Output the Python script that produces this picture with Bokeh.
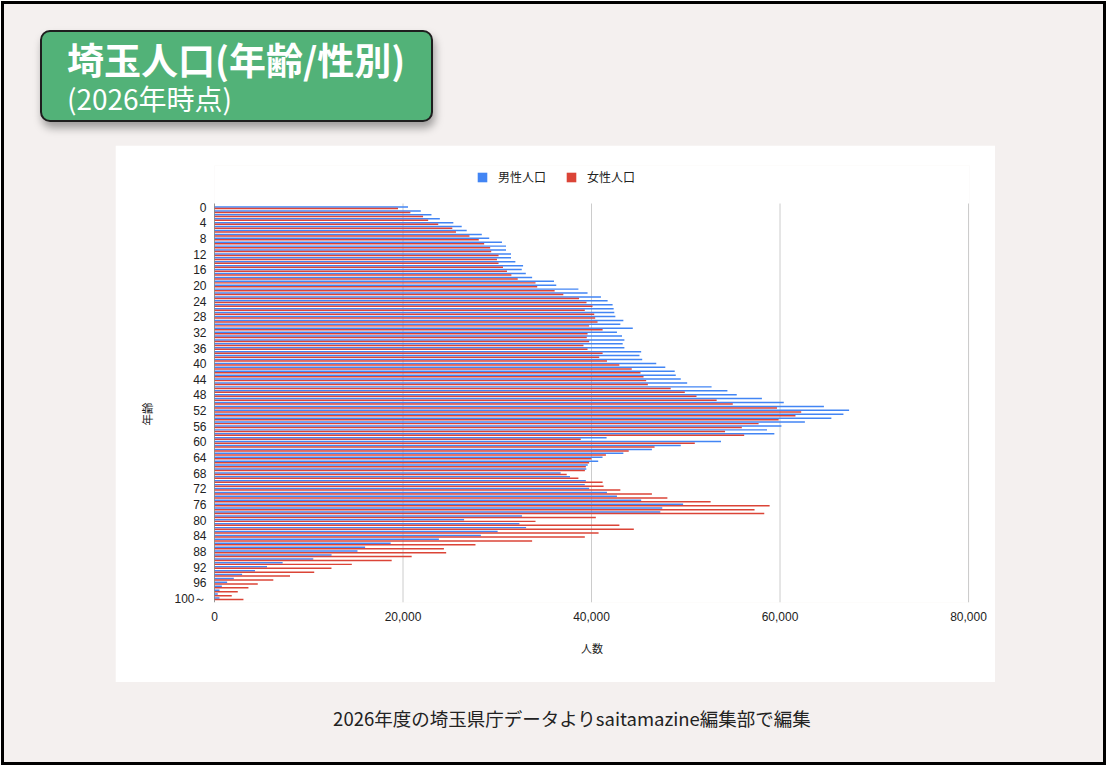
from bokeh.plotting import figure
from bokeh.layouts import column
from bokeh.models import (Range1d, FixedTicker, NumeralTickFormatter, Legend, LegendItem,
                          ColumnDataSource, Div, Title)
from bokeh.transform import dodge
from bokeh.embed import file_html
from bokeh.resources import INLINE

# ---- data: Saitama population by age (0 .. 100+) ----
ages = list(range(0, 101))
male = [
    20530, 21890, 23020, 23910, 25340, 26230, 26760, 28360, 29150, 30500,
    30930, 30930, 31460, 31460, 31920, 32740, 32600, 33030, 33700, 36020,
    36260, 38610, 39580, 41000, 41710, 42240, 42350, 42420, 42530, 43380,
    43060, 44380, 42700, 43240, 43490, 43310, 43490, 45270, 45090, 45380,
    46870, 47830, 48830, 48940, 49470, 50150, 52740, 54420, 55410, 58080,
    60400, 64660, 67330, 66730, 65450, 62640, 60150, 58620, 59400, 41600,
    53740, 49470, 46410, 43380, 41170, 40710, 39600, 39450, 36730, 37720,
    39400, 39290, 39750, 41640, 42700, 45270, 49720, 47510, 47300, 32630,
    26480, 32350, 33060, 30040, 28260, 23810, 18690, 15980, 15170, 12420,
    10480, 7230, 5570, 4300, 2930, 2050, 1340, 780, 530, 350,
    530,
]
female = [
    19470, 20780, 22130, 22670, 23740, 25230, 25620, 27050, 28040, 28610,
    29250, 29360, 30140, 29970, 30140, 30610, 31030, 31500, 32170, 34060,
    34240, 36090, 37010, 38680, 39470, 40110, 39290, 40290, 40390, 40640,
    39750, 41180, 39580, 39500, 39750, 39150, 39580, 41180, 40820, 41640,
    42950, 44270, 45200, 45520, 45800, 45980, 48400, 49900, 51140, 53280,
    54990, 59680, 62250, 61640, 59860, 57730, 55950, 54170, 56200, 38860,
    50960, 46690, 43950, 41530, 40000, 39750, 39400, 39300, 37370, 38610,
    41180, 41280, 43060, 46410, 48050, 52640, 58900, 57300, 58330, 40460,
    34060, 42960, 44490, 40750, 39290, 33700, 27690, 24340, 24580, 20920,
    18800, 14570, 12410, 10580, 8010, 6240, 4590, 3600, 2470, 1830,
    3070,
]
age_ticks = list(range(0, 101, 4))
age_tick_labels = [str(a) for a in range(0, 100, 4)] + ["100～"]
count_ticks = [0, 20000, 40000, 60000, 80000]

series_names = ["男性人口", "女性人口"]
series_colors = ["#4285f4", "#db4437"]

TITLE = "埼玉人口(年齢/性別)"
SUBTITLE = "(2026年時点)"
CAPTION = "2026年度の埼玉県庁データよりsaitamazine編集部で編集"
Y_TITLE = "年齢"
X_TITLE = "人数"

JP = "Noto Sans CJK JP"
LAT = "Liberation Sans"
INK = "#222222"

# bar area spans ages -1.1 .. 100.95 on the category axis; the frame reaches
# higher so that the legend row sits inside it, above the bars
AGE_TOP, AGE_BOTTOM = ages[0] - 1.1, ages[-1] + 0.95
LEGEND_ROOM = 9.72
# one pixel of slack past the last grid line so it is not clipped by the frame
X_SLACK = 106

# ---- chart panel ----
p = figure(width=880, height=537, output_backend="svg", toolbar_location=None,
           x_range=Range1d(count_ticks[0], count_ticks[-1] + X_SLACK),
           y_range=Range1d(AGE_BOTTOM, AGE_TOP - LEGEND_ROOM),
           min_border_left=99, min_border_right=26,
           min_border_top=20, min_border_bottom=80,
           border_fill_color="white", background_fill_color="white",
           outline_line_color=None)

# vertical grid lines and the zero baseline, limited to the bar area
grid_src = ColumnDataSource(dict(x=count_ticks[1:]))
p.segment(x0="x", x1="x", y0=AGE_TOP, y1=AGE_BOTTOM, source=grid_src,
          line_color="#cccccc", line_width=1)

src = ColumnDataSource(dict(age=ages, male=male, female=female))
r_m = p.hbar(y=dodge("age", -0.2, range=p.y_range), right="male", left=0, height=0.38,
             source=src, fill_color=series_colors[0], line_color=None)
r_f = p.hbar(y=dodge("age", 0.2, range=p.y_range), right="female", left=0, height=0.38,
             source=src, fill_color=series_colors[1], line_color=None)

p.segment(x0=count_ticks[0], x1=count_ticks[0], y0=AGE_TOP, y1=AGE_BOTTOM,
          line_color="#333333", line_width=1)

p.yaxis.ticker = FixedTicker(ticks=age_ticks)
p.yaxis.major_label_overrides = {t: s for t, s in zip(age_ticks, age_tick_labels)}
p.yaxis.major_tick_line_color = None
p.yaxis.minor_tick_line_color = None
p.yaxis.axis_line_color = None
p.yaxis.major_label_standoff = 2
p.yaxis.major_label_text_font = LAT
p.yaxis.major_label_text_font_size = "12px"
p.yaxis.major_label_text_color = INK

p.xaxis.ticker = FixedTicker(ticks=count_ticks)
p.xaxis.formatter = NumeralTickFormatter(format="0,0")
p.xaxis.axis_line_color = None
p.xaxis.major_tick_line_color = None
p.xaxis.minor_tick_line_color = None
p.xaxis.major_label_standoff = 3
p.xaxis.major_label_text_font = LAT
p.xaxis.major_label_text_font_size = "12px"
p.xaxis.major_label_text_color = INK
p.xaxis.axis_label = X_TITLE
p.xaxis.axis_label_text_font = JP
p.xaxis.axis_label_text_font_style = "normal"
p.xaxis.axis_label_text_font_size = "11px"
p.xaxis.axis_label_text_color = INK
p.xaxis.axis_label_standoff = 16

p.xgrid.grid_line_color = None
p.ygrid.grid_line_color = None

# vertical axis title, placed beside the bar area
p.add_layout(Title(text=Y_TITLE, align="left", offset=177, standoff=34,
                   text_font=JP, text_font_style="normal", text_font_size="11.5px",
                   text_color=INK), "left")

legend = Legend(items=[LegendItem(label=series_names[0], renderers=[r_m]),
                       LegendItem(label=series_names[1], renderers=[r_f])],
                location=(262, 417), orientation="horizontal",
                padding=0, margin=0, spacing=19,
                glyph_width=12, glyph_height=12, label_height=12,
                label_standoff=10,
                label_text_font=JP, label_text_font_size="12px", label_text_color=INK,
                background_fill_alpha=0, border_line_color=None)
p.add_layout(legend)

# ---- title card ----
title_html = (
    f'<div style="padding:7px 0 0 25px; color:#ffffff; font-family:\'{JP}\';">'
    f'<div style="font-size:37px; font-weight:bold; line-height:40px; white-space:nowrap;">{TITLE}</div>'
    f'<div style="font-size:28px; line-height:30px; margin-top:4px; white-space:nowrap;">{SUBTITLE}</div>'
    f'</div>'
)
title_div = Div(text=title_html, width=393, height=92, margin=(26, 0, 0, 36),
                styles={"background-color": "#52b278", "border": "2px solid #1e1e1e",
                        "border-radius": "10px", "box-sizing": "border-box",
                        "box-shadow": "2px 6px 8px rgba(0,0,0,0.35)"})

# ---- source caption ----
caption_html = (
    f'<div style="width:1064px; font-family:\'{JP}\'; font-size:18.5px; line-height:26px; '
    f'color:{INK}; text-align:center; white-space:nowrap;">{CAPTION}</div>'
)
caption_div = Div(text=caption_html, width=1064, height=30, margin=(23, 0, 0, 36))

p.margin = (23, 0, 0, 111)

page = column(title_div, p, caption_div, width=1105, height=764, margin=(1, 0, 0, 1),
              styles={"background-color": "#f4f0ef", "border": "3px solid #000000",
                      "box-sizing": "border-box"})

open("out.html", "w").write(file_html(page, INLINE))
